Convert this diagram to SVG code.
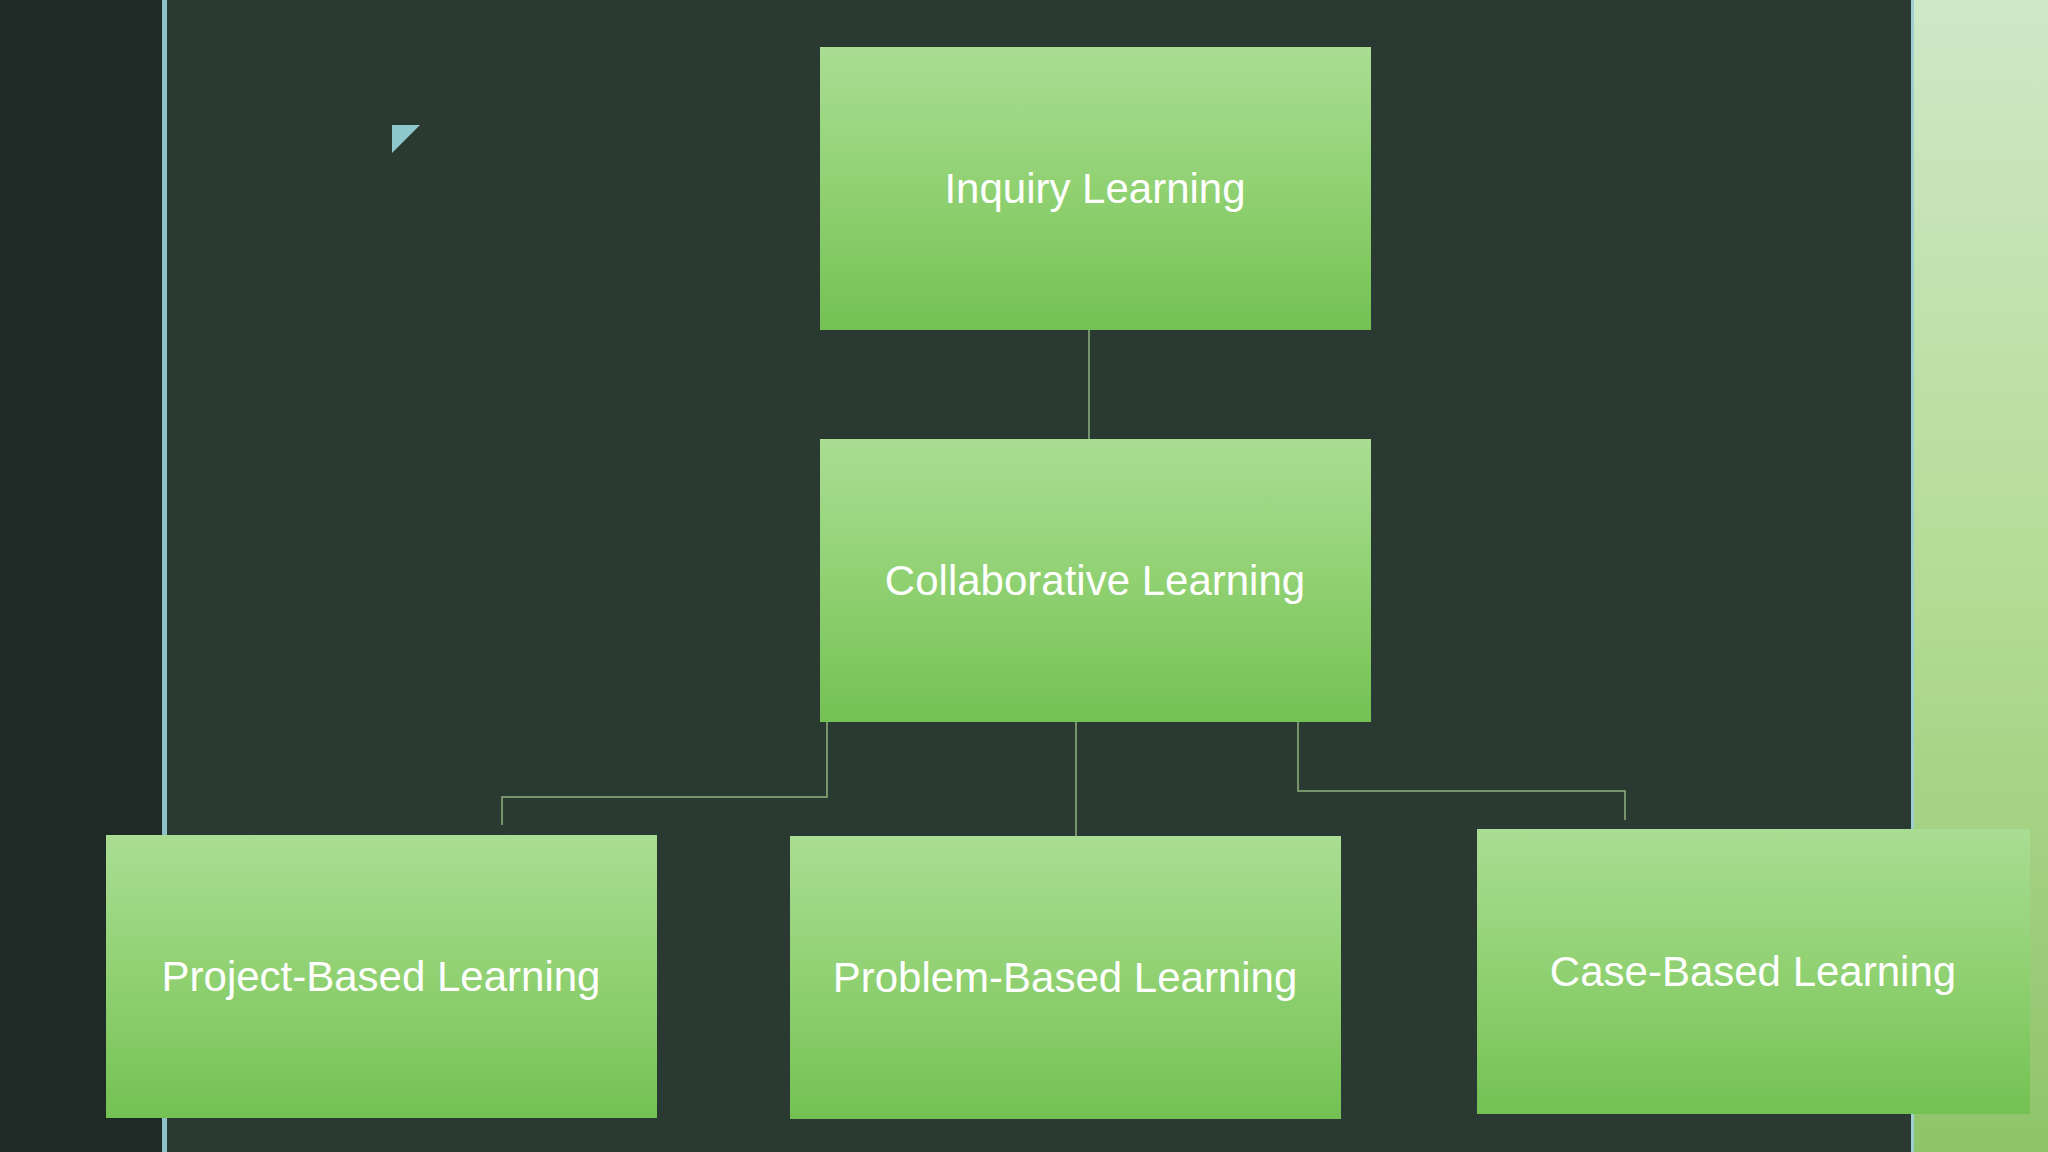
<svg xmlns="http://www.w3.org/2000/svg" width="2048" height="1152" viewBox="0 0 2048 1152">
<defs>
<linearGradient id="g" x1="0" y1="0" x2="0" y2="1">
<stop offset="0" stop-color="#a9dd93"/><stop offset="0.5" stop-color="#90d172"/><stop offset="1" stop-color="#74c153"/>
</linearGradient>
<linearGradient id="side" x1="0" y1="0" x2="0" y2="1">
<stop offset="0" stop-color="#cfe8c8"/><stop offset="0.5" stop-color="#b5dc96"/><stop offset="1" stop-color="#8fc46a"/>
</linearGradient>
<style>
.box{fill:url(#g)}
.t{font-family:"Liberation Sans",Arial,sans-serif;font-size:42px;fill:#ffffff;text-anchor:middle;dominant-baseline:central}
.c{fill:none;stroke:#8fb37f;stroke-width:1.5}
</style>
</defs>
<rect width="2048" height="1152" fill="#2a3a33"/>
<rect width="162" height="1152" fill="#1e2a25"/>
<rect x="162" y="0" width="5" height="1152" fill="#8fc1c8"/>
<rect x="1913" y="0" width="135" height="1152" fill="url(#side)"/>
<rect x="1911" y="0" width="3" height="1152" fill="#9fcfd0"/>
<polygon points="392,125 420,125 392,153" fill="#8fc7cf"/>
<g id="connectors">
<path class="c" d="M1089,330 V439"/>
<path class="c" d="M827,722 V797 H502 V825"/>
<path class="c" d="M1076,722 V836"/>
<path class="c" d="M1298,722 V791 H1625 V820"/>
</g>
<g id="inquiry"><rect class="box" x="820" y="47" width="551" height="283"/><text class="t" x="1095" y="188">Inquiry Learning</text></g>
<g id="collaborative"><rect class="box" x="820" y="439" width="551" height="283"/><text class="t" x="1095" y="580">Collaborative Learning</text></g>
<g id="project"><rect class="box" x="106" y="835" width="551" height="283"/><text class="t" x="381" y="976">Project-Based Learning</text></g>
<g id="problem"><rect class="box" x="790" y="836" width="551" height="283"/><text class="t" x="1065" y="977">Problem-Based Learning</text></g>
<g id="case"><rect class="box" x="1477" y="829" width="553" height="285"/><text class="t" x="1753" y="971">Case-Based Learning</text></g>
</svg>
